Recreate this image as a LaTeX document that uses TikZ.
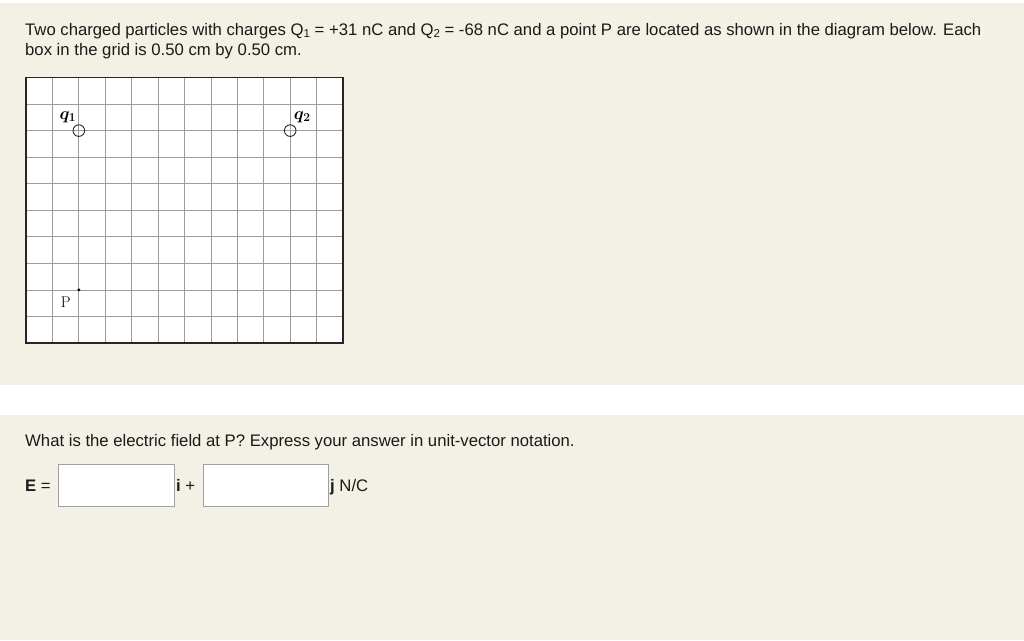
\documentclass[tikz,border=0pt]{standalone}
\usepackage{fontspec}
\setsansfont{Liberation Sans}
\definecolor{pagebg}{HTML}{F3F0E6}
\definecolor{gridgray}{HTML}{9C9C9C}
\definecolor{boxgray}{HTML}{A0A0A0}
\definecolor{textblack}{HTML}{1A1A1A}
\newcommand{\lowsub}[1]{\raisebox{-0.3ex}{\fontsize{11.5}{11.5}\selectfont #1}}

\begin{document}
\begin{tikzpicture}[x=1pt, y=-1pt, every node/.style={inner sep=0pt},
  txt/.style={anchor=base west, font=\sffamily\fontsize{16.7}{20}\selectfont, text=textblack},
  answerbox/.style={draw=boxgray, fill=white, line width=0.8pt},
  charge/.style={circle, draw=black!85, line width=0.9pt, minimum size=11.6pt},
  gridlabel/.style={font=\fontsize{17}{17}\selectfont\boldmath, text=black}]

% page
\fill[pagebg] (0,0) rectangle (1024,640);
\fill[white] (0,0) rectangle (1024,3);
\fill[white] (0,385) rectangle (1024,414.5);
\useasboundingbox (0,0) rectangle (1024,640);

% problem text
\node[txt] (line1) at (25,35) {Two charged particles with charges Q\lowsub{1} = +31 nC and Q\lowsub{2} = -68 nC and a point P are located as shown in the diagram below. Each};
\node[txt] (line2) at (25,55) {box in the grid is 0.50 cm by 0.50 cm.};

% grid
\begin{scope}[shift={(26,77.5)}, x=26.42pt, y=-26.55pt]
  \fill[white] (0,0) rectangle (12,10);
  \foreach \i in {1,...,11}
    \draw[gridgray, line width=0.8pt] (\i,0) -- (\i,10);
  \foreach \j in {1,...,9}
    \draw[gridgray, line width=0.8pt] (0,\j) -- (12,\j);
  \draw[black!85, line width=1.1pt] (0,0) rectangle (12,10);

  % charges and point
  \node[charge] (q1) at (2,2) {};
  \node[charge] (q2) at (10,2) {};
  \fill[black] (2,8) circle[radius=1.6pt];
  \coordinate (P) at (2,8);
\end{scope}

% grid labels
\node[gridlabel] (q1lab) at ([xshift=-11pt,yshift=13.5pt]q1.center) {$q_1$};
\node[gridlabel] (q2lab) at ([xshift=12pt,yshift=13.5pt]q2.center) {$q_2$};
\node[font=\fontsize{15.5}{15.5}\selectfont, text=black] (Plab) at ([xshift=-13pt,yshift=-12.5pt]P) {P};

% question
\node[txt] (question) at (25,446) {What is the electric field at P? Express your answer in unit-vector notation.};
\node[txt] (Elab) at (25,491) {\textbf{E} =};
\node[answerbox, minimum width=116pt, minimum height=42pt] (ansx) at (116,485) {};
\node[txt, anchor=base west] (ilab) at (176,491) {\textbf{i} +};
\node[answerbox, minimum width=125pt, minimum height=42pt] (ansy) at (265.5,485) {};
\node[txt, anchor=base west] (jlab) at (330,491) {\textbf{j} N/C};

\end{tikzpicture}
\end{document}
